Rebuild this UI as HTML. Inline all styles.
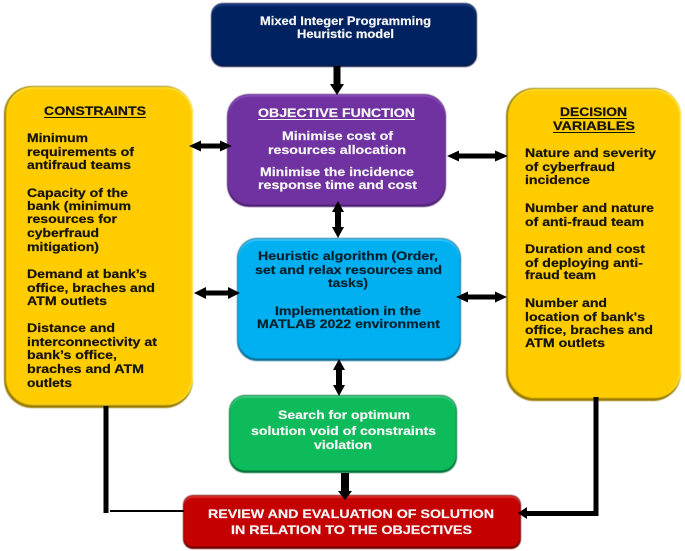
<!DOCTYPE html>
<html>
<head>
<meta charset="utf-8">
<style>
html,body{margin:0;padding:0;background:#fff;}
svg{display:block;}
text{font-family:"Liberation Sans",sans-serif;font-weight:bold;font-size:11.5px;stroke-width:0.2px;}
.k text{fill:#141208;stroke:#141208;}
.b text{fill:#06202e;stroke:#06202e;}
.w text{fill:#f4f4f4;stroke:#f4f4f4;}
</style>
</head>
<body>
<svg width="685" height="551" viewBox="0 0 685 551" xmlns="http://www.w3.org/2000/svg">
<defs>
<filter id="s" x="-5%" y="-5%" width="110%" height="110%"><feGaussianBlur stdDeviation="0.6"/></filter>
<filter id="t" x="-5%" y="-20%" width="110%" height="140%"><feGaussianBlur stdDeviation="0.35"/></filter>
</defs>
<rect width="685" height="551" fill="#fff"/>

<g filter="url(#s)">
<!-- navy -->
<rect x="211" y="3" width="266" height="64" rx="12" fill="#0a1c4c"/>
<rect x="212" y="4" width="264" height="30" rx="11" fill="#1a3f8a"/>
<rect x="212" y="5.500" width="264" height="59.500" rx="11" fill="#002060"/>
<!-- purple -->
<rect x="227" y="94" width="219" height="113" rx="22" fill="#4c2070"/>
<rect x="228" y="95" width="217" height="50" rx="21" fill="#9350c4"/>
<rect x="228" y="96.500" width="217" height="108" rx="21" fill="#7030a0"/>
<!-- left yellow -->
<rect x="4" y="86" width="189" height="322" rx="28" fill="#9a7c06"/>
<rect x="6" y="87" width="187" height="318" rx="27" fill="#ffe030"/>
<rect x="6" y="88.500" width="185.500" height="316" rx="27" fill="#ffcc00"/>
<!-- right yellow -->
<rect x="506" y="88" width="175" height="313" rx="28" fill="#9a7c06"/>
<rect x="508" y="89" width="173" height="309" rx="27" fill="#ffe030"/>
<rect x="508" y="90.500" width="171.500" height="307.500" rx="27" fill="#ffcc00"/>
<!-- blue -->
<rect x="237" y="238" width="224" height="123" rx="20" fill="#0a6a94"/>
<rect x="238" y="239" width="222" height="50" rx="19" fill="#40ccff"/>
<rect x="238" y="240.500" width="222" height="118" rx="19" fill="#00b0f0"/>
<!-- green -->
<rect x="229" y="395" width="228" height="78" rx="16" fill="#067038"/>
<rect x="230" y="396" width="226" height="40" rx="15" fill="#40d488"/>
<rect x="230" y="397.500" width="226" height="73" rx="15" fill="#08bb5a"/>
<!-- red -->
<rect x="183" y="495" width="338" height="54" rx="10" fill="#6e0000"/>
<rect x="184" y="496" width="336" height="30" rx="9" fill="#e83030"/>
<rect x="184" y="497.500" width="336" height="49" rx="9" fill="#c40404"/>
</g>

<g fill="#000" filter="url(#t)">
<!-- navy to purple -->
<polygon points="333.500,66 340.500,66 340.500,84 344,84 337,95 330,84 333.500,84"/>
<!-- left yellow / purple -->
<polygon points="189,146 201,140.500 201,143.500 220,143.500 220,140.500 232,146 220,151.500 220,148.500 201,148.500 201,151.500"/>
<!-- left yellow / blue -->
<polygon points="194,293 206,287 206,290.500 228,290.500 228,287 240,293 228,299 228,295.500 206,295.500 206,299"/>
<!-- purple / right yellow -->
<polygon points="447,156 459,150.500 459,153.500 495,153.500 495,150.500 508,156 495,161.500 495,158.500 459,158.500 459,161.500"/>
<!-- blue / right yellow -->
<polygon points="456,297 468,291.500 468,294.500 495,294.500 495,291.500 507,297 495,302.500 495,299.500 468,299.500 468,302.500"/>
<!-- purple / blue -->
<polygon points="338,201 344,212 341,212 341,227 344,227 338,238 332,227 335,227 335,212 332,212"/>
<!-- blue / green -->
<polygon points="339,359 345,370 342,370 342,385 345,385 339,396 333,385 336,385 336,370 333,370"/>
<!-- green to red -->
<polygon points="341,473 349,473 349,491 352,491 345,500 338,491 341,491"/>
<!-- connectors -->
<rect x="103.500" y="406" width="5" height="107"/>
<rect x="110" y="510" width="74" height="2"/>
<rect x="593.500" y="397" width="5" height="119"/>
<polygon points="598,511 527,511 527,507 518,513 527,519 527,516 598,516"/>
</g>

<g filter="url(#t)">
<g class="w">
<text x="260" y="25" textLength="171" lengthAdjust="spacingAndGlyphs">Mixed Integer Programming</text>
<text x="297" y="38" textLength="97" lengthAdjust="spacingAndGlyphs">Heuristic model</text>
<text x="258" y="117" textLength="157" lengthAdjust="spacingAndGlyphs">OBJECTIVE FUNCTION</text>
<rect x="258" y="119" width="157" height="1" fill="#f4f4f4"/>
<text x="282" y="140" textLength="111" lengthAdjust="spacingAndGlyphs">Minimise cost of</text>
<text x="268" y="154" textLength="138" lengthAdjust="spacingAndGlyphs">resources allocation</text>
<text x="260" y="176" textLength="154" lengthAdjust="spacingAndGlyphs">Minimise the incidence</text>
<text x="258" y="189" textLength="159" lengthAdjust="spacingAndGlyphs">response time and cost</text>
<text x="278" y="419" textLength="132" lengthAdjust="spacingAndGlyphs">Search for optimum</text>
<text x="251" y="435" textLength="185" lengthAdjust="spacingAndGlyphs">solution void of constraints</text>
<text x="314" y="449" textLength="58" lengthAdjust="spacingAndGlyphs">violation</text>
<text x="208" y="518" textLength="286" lengthAdjust="spacingAndGlyphs">REVIEW AND EVALUATION OF SOLUTION</text>
<text x="231" y="534" textLength="241" lengthAdjust="spacingAndGlyphs">IN RELATION TO THE OBJECTIVES</text>
</g>
<g class="b">
<text x="258" y="260" textLength="180" lengthAdjust="spacingAndGlyphs">Heuristic algorithm (Order,</text>
<text x="255" y="274" textLength="187" lengthAdjust="spacingAndGlyphs">set and relax resources and</text>
<text x="328" y="287" textLength="40" lengthAdjust="spacingAndGlyphs">tasks)</text>
<text x="275" y="315" textLength="146" lengthAdjust="spacingAndGlyphs">Implementation in the</text>
<text x="257" y="328" textLength="183" lengthAdjust="spacingAndGlyphs">MATLAB 2022 environment</text>
</g>
<g class="k">
<text x="44" y="115" textLength="102" lengthAdjust="spacingAndGlyphs">CONSTRAINTS</text>
<rect x="44" y="117" width="102" height="1" fill="#141208"/>
<text x="27" y="142" textLength="61" lengthAdjust="spacingAndGlyphs">Minimum</text>
<text x="27" y="156" textLength="107" lengthAdjust="spacingAndGlyphs">requirements of</text>
<text x="27" y="169" textLength="104" lengthAdjust="spacingAndGlyphs">antifraud teams</text>
<text x="27" y="197" textLength="101" lengthAdjust="spacingAndGlyphs">Capacity of the</text>
<text x="27" y="210" textLength="104" lengthAdjust="spacingAndGlyphs">bank (minimum</text>
<text x="27" y="223" textLength="90" lengthAdjust="spacingAndGlyphs">resources for</text>
<text x="27" y="237" textLength="72" lengthAdjust="spacingAndGlyphs">cyberfraud</text>
<text x="27" y="251" textLength="72" lengthAdjust="spacingAndGlyphs">mitigation)</text>
<text x="27" y="278" textLength="120" lengthAdjust="spacingAndGlyphs">Demand at bank’s</text>
<text x="27" y="292" textLength="128" lengthAdjust="spacingAndGlyphs">office, braches and</text>
<text x="27" y="305" textLength="80" lengthAdjust="spacingAndGlyphs">ATM outlets</text>
<text x="27" y="332" textLength="88" lengthAdjust="spacingAndGlyphs">Distance and</text>
<text x="27" y="346" textLength="130" lengthAdjust="spacingAndGlyphs">interconnectivity at</text>
<text x="27" y="359" textLength="90" lengthAdjust="spacingAndGlyphs">bank’s office,</text>
<text x="27" y="373" textLength="117" lengthAdjust="spacingAndGlyphs">braches and ATM</text>
<text x="27" y="387" textLength="45" lengthAdjust="spacingAndGlyphs">outlets</text>

<text x="560" y="116" textLength="67" lengthAdjust="spacingAndGlyphs">DECISION</text>
<rect x="560" y="118" width="67" height="1" fill="#141208"/>
<text x="553" y="130" textLength="82" lengthAdjust="spacingAndGlyphs">VARIABLES</text>
<rect x="553" y="132" width="82" height="1" fill="#141208"/>
<text x="525" y="157" textLength="131" lengthAdjust="spacingAndGlyphs">Nature and severity</text>
<text x="525" y="171" textLength="90" lengthAdjust="spacingAndGlyphs">of cyberfraud</text>
<text x="525" y="184" textLength="65" lengthAdjust="spacingAndGlyphs">incidence</text>
<text x="525" y="212" textLength="129" lengthAdjust="spacingAndGlyphs">Number and nature</text>
<text x="525" y="226" textLength="119" lengthAdjust="spacingAndGlyphs">of anti-fraud team</text>
<text x="525" y="253" textLength="120" lengthAdjust="spacingAndGlyphs">Duration and cost</text>
<text x="525" y="267" textLength="118" lengthAdjust="spacingAndGlyphs">of deploying anti-</text>
<text x="525" y="279" textLength="71" lengthAdjust="spacingAndGlyphs">fraud team</text>
<text x="525" y="307" textLength="82" lengthAdjust="spacingAndGlyphs">Number and</text>
<text x="525" y="321" textLength="120" lengthAdjust="spacingAndGlyphs">location of bank's</text>
<text x="525" y="334" textLength="128" lengthAdjust="spacingAndGlyphs">office, braches and</text>
<text x="525" y="347" textLength="80" lengthAdjust="spacingAndGlyphs">ATM outlets</text>
</g>
</g>
</svg>
</body>
</html>
